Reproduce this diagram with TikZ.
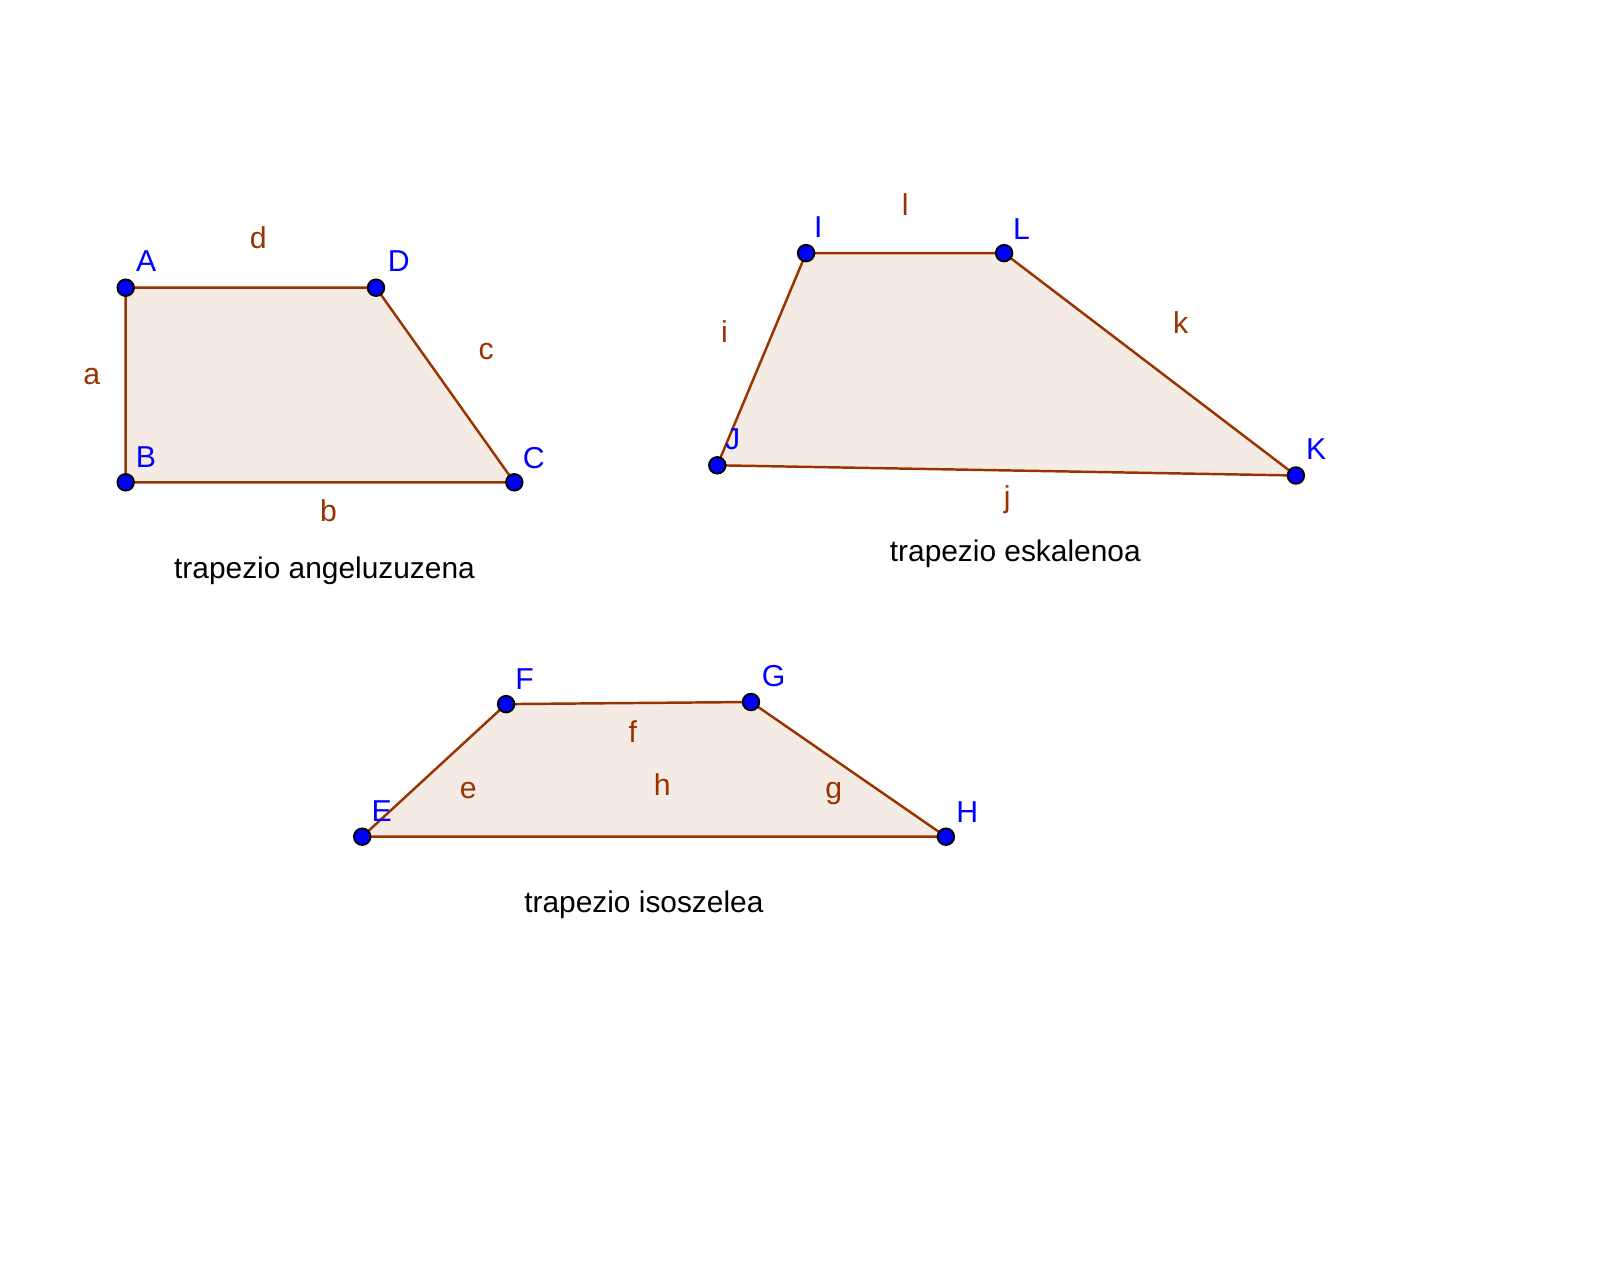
\documentclass[tikz,border=0pt]{standalone}
\usepackage{fontspec}
\setmainfont{Liberation Sans}
\definecolor{ggbrown}{RGB}{153,51,0}
\definecolor{ggblue}{RGB}{0,0,255}

\begin{document}
\begin{tikzpicture}[
    x=0.1mm, y=-0.1mm,
    trapez/.style={draw=ggbrown, fill=ggbrown!10, line width=0.7pt, line join=round},
    pt/.style={circle, draw=black, fill=ggblue, line width=0.55pt, inner sep=0pt, minimum size=1.65mm},
    ptlabel/.style={text=ggblue, inner sep=0pt, font=\fontsize{8.6pt}{10pt}\selectfont},
    seglabel/.style={text=ggbrown, inner sep=0pt, font=\fontsize{8.6pt}{10pt}\selectfont},
    caption/.style={text=black, inner sep=0pt, font=\fontsize{8.5pt}{10pt}\selectfont}
]
\useasboundingbox (0,0) rectangle (1600,1277);

% Trapezio angeluzuzena
\coordinate (A) at (125.7, 287.7);
\coordinate (D) at (376, 287.7);
\coordinate (C) at (514.3, 482.3);
\coordinate (B) at (125.7, 482.3);
\draw[trapez] (A) -- (D) -- (C) -- (B) -- cycle;
\node[seglabel] (la) at (91.7, 376.7) {a};
\node[seglabel] (lb) at (328.5, 511) {b};
\node[seglabel] (lc) at (486.3, 351.5) {c};
\node[seglabel] (ld) at (258.3, 237.3) {d};
\node[pt] (pA) at (A) {};
\node[pt] (pB) at (B) {};
\node[pt] (pC) at (C) {};
\node[pt] (pD) at (D) {};
\node[ptlabel] (nA) at (146.3, 260.7) {A};
\node[ptlabel] (nB) at (146, 457) {B};
\node[ptlabel] (nC) at (533.7, 458) {C};
\node[ptlabel] (nD) at (398.7, 260.7) {D};
\node[caption] (cap1) at (324.5, 570.5) {trapezio angeluzuzena};

% Trapezio eskalenoa
\coordinate (I) at (806.1, 253.1);
\coordinate (L) at (1004.1, 253.1);
\coordinate (K) at (1295.9, 475.5);
\coordinate (J) at (717.3, 465.3);
\draw[trapez] (I) -- (L) -- (K) -- (J) -- cycle;
\node[seglabel] (li) at (724.5, 331.6) {i};
\node[seglabel] (lj) at (1007.1, 500) {j};
\node[seglabel] (lk) at (1180.6, 322.4) {k};
\node[seglabel] (ll) at (905.1, 204.1) {l};
\node[pt] (pI) at (I) {};
\node[pt] (pJ) at (J) {};
\node[pt] (pK) at (K) {};
\node[pt] (pL) at (L) {};
\node[ptlabel] (nI) at (818.4, 227.5) {I};
\node[ptlabel] (nJ) at (732.7, 439.5) {J};
\node[ptlabel] (nK) at (1316.3, 449.5) {K};
\node[ptlabel] (nL) at (1021.4, 229) {L};
\node[caption] (cap2) at (1015.3, 554) {trapezio eskalenoa};

% Trapezio isoszelea
\coordinate (E) at (362.2, 836.7);
\coordinate (F) at (506.1, 704.1);
\coordinate (G) at (751, 702);
\coordinate (H) at (945.9, 836.7);
\draw[trapez] (E) -- (F) -- (G) -- (H) -- cycle;
\node[seglabel] (le) at (468.4, 791) {e};
\node[seglabel] (lf) at (632.7, 731.6) {f};
\node[seglabel] (lg) at (833.7, 793.5) {g};
\node[seglabel] (lh) at (662.2, 784.7) {h};
\node[pt] (pE) at (E) {};
\node[pt] (pF) at (F) {};
\node[pt] (pG) at (G) {};
\node[pt] (pH) at (H) {};
\node[ptlabel] (nE) at (381.6, 811.2) {E};
\node[ptlabel] (nF) at (524.5, 678.6) {F};
\node[ptlabel] (nG) at (773.5, 676) {G};
\node[ptlabel] (nH) at (967.3, 812.2) {H};
\node[caption] (cap3) at (643.9, 905) {trapezio isoszelea};

\end{tikzpicture}
\end{document}
